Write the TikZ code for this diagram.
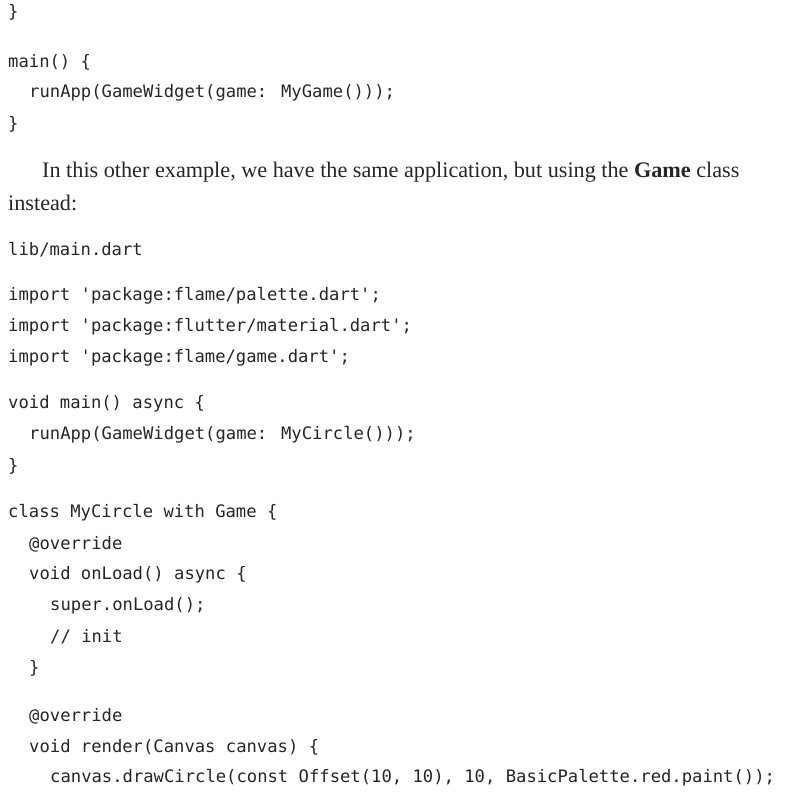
\documentclass[tikz,border=0pt]{standalone}
\usepackage{fontspec}
\setmainfont{Liberation Serif}
\newfontfamily\codefont{DejaVu Sans Mono}
\begin{document}
\begin{tikzpicture}[x=1pt,y=-1pt,
  code/.style={anchor=west,inner sep=0pt,font=\codefont\fontsize{17.2}{20}\selectfont,text=black!85},
  prose/.style={anchor=west,inner sep=0pt,font=\fontsize{22.2}{24}\selectfont,text=black!85}]
\useasboundingbox (0,0) rectangle (800,800);
\node[code] (l1) at (8,12) {\}};
\node[code] (l2) at (8,62) {main() \{};
\node[code] (l3) at (29,93) {runApp(GameWidget(game: MyGame()));};
\node[code] (l4) at (8,124) {\}};
\node[prose] (p1) at (42,172) {In this other example, we have the same application, but using the \textbf{Game} class};
\node[prose] (p2) at (8,203) {instead:};
\node[code] (l5) at (8,250) {lib/main.dart};
\node[code] (l6) at (8,296) {import 'package:flame/palette.dart';};
\node[code] (l7) at (8,327) {import 'package:flutter/material.dart';};
\node[code] (l8) at (8,358) {import 'package:flame/game.dart';};
\node[code] (l9) at (8,404) {void main() async \{};
\node[code] (l10) at (29,435) {runApp(GameWidget(game: MyCircle()));};
\node[code] (l11) at (8,466) {\}};
\node[code] (l12) at (8,513) {class MyCircle with Game \{};
\node[code] (l13) at (29,544) {@override};
\node[code] (l14) at (29,575) {void onLoad() async \{};
\node[code] (l15) at (50,606) {super.onLoad();};
\node[code] (l16) at (50,637) {// init};
\node[code] (l17) at (29,668) {\}};
\node[code] (l18) at (29,716) {@override};
\node[code] (l19) at (29,747) {void render(Canvas canvas) \{};
\node[code] (l20) at (50,778) {canvas.drawCircle(const Offset(10, 10), 10, BasicPalette.red.paint());};
\end{tikzpicture}
\end{document}
